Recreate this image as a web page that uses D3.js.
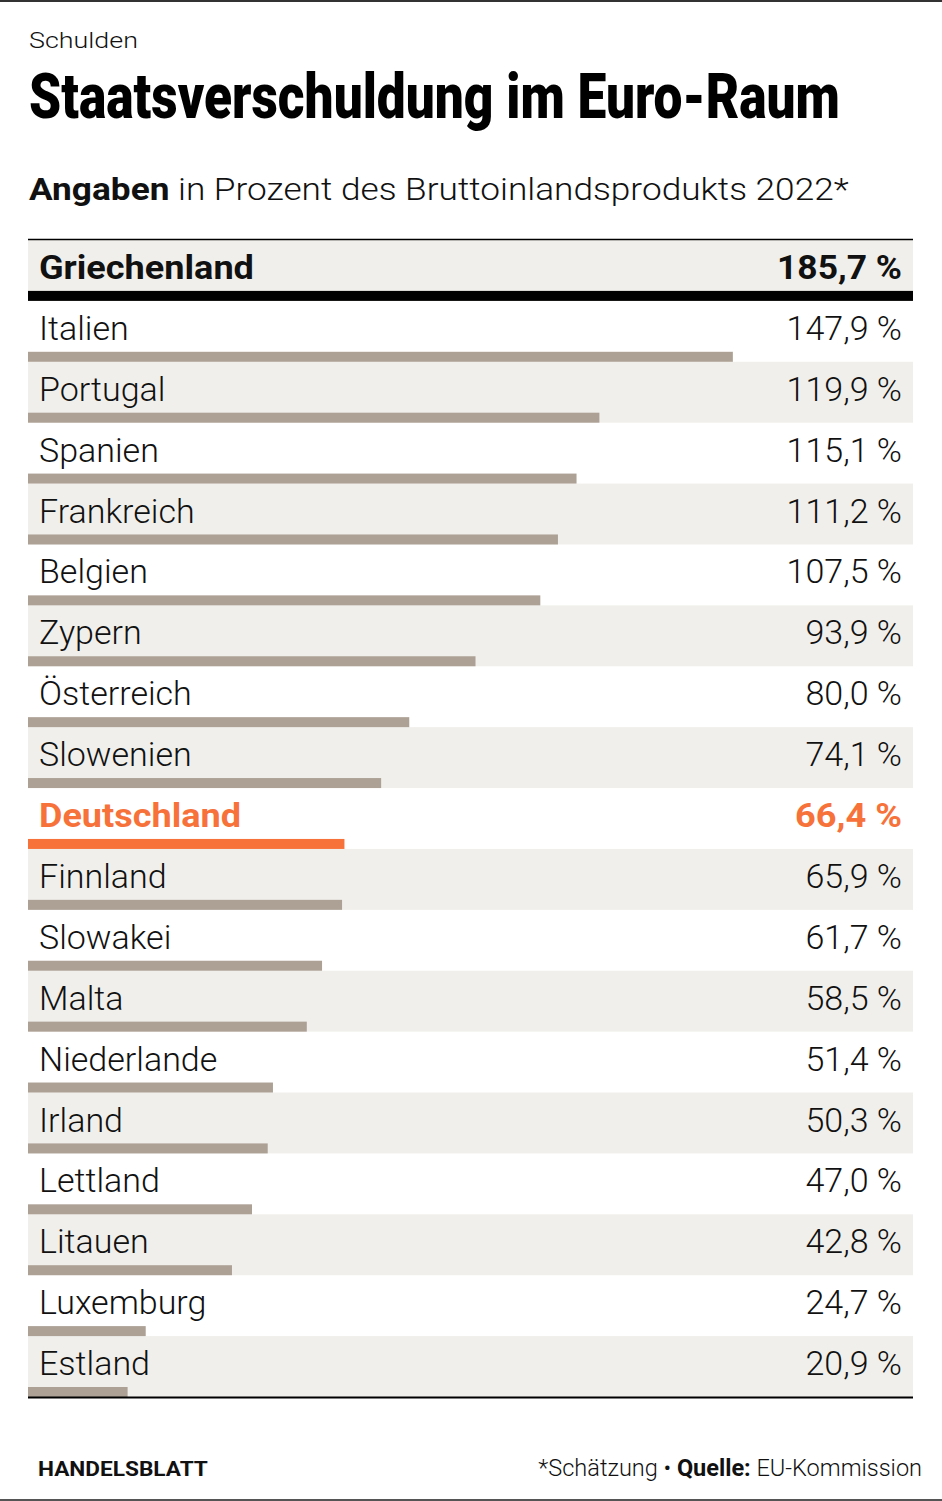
<!DOCTYPE html>
<html><head><meta charset="utf-8">
<script src="https://cdn.jsdelivr.net/npm/d3@7"></script>
<style>
html,body{margin:0;padding:0;background:#fff;}
svg{display:block;}
text{font-family:Roboto,"Noto Sans",sans-serif;}
</style></head>
<body>
<script>
const countries = ["Griechenland","Italien","Portugal","Spanien","Frankreich","Belgien","Zypern","Österreich","Slowenien","Deutschland","Finnland","Slowakei","Malta","Niederlande","Irland","Lettland","Litauen","Luxemburg","Estland"];
const values = [185.7,147.9,119.9,115.1,111.2,107.5,93.9,80.0,74.1,66.4,65.9,61.7,58.5,51.4,50.3,47.0,42.8,24.7,20.9];
const valueLabels = ["185,7 %","147,9 %","119,9 %","115,1 %","111,2 %","107,5 %","93,9 %","80,0 %","74,1 %","66,4 %","65,9 %","61,7 %","58,5 %","51,4 %","50,3 %","47,0 %","42,8 %","24,7 %","20,9 %"];
const leader = "Griechenland";
const highlight = "Deutschland";

const W = 942, H = 1501;
const svg = d3.select("body").append("svg").attr("width", W).attr("height", H);

// scale a text horizontally so it spans the given width (anchor: "start" or "end")
function fitX(sel, x0, y0, width, anchor) {
  const node = sel.node();
  const w = node.getComputedTextLength();
  const k = width / w;
  sel.attr("x", 0).attr("y", 0).attr("text-anchor", anchor || "start")
    .attr("transform", `translate(${x0},${y0}) scale(${k},1)`);
}

const x = d3.scaleLinear().domain([0, d3.max(values)]).range([28, 913]);
const y = d3.scaleBand().domain(countries).range([240, 1397]).padding(0);
const bh = 10;

const data = countries.map((c, i) => ({c, v: values[i], lab: valueLabels[i], i}));

// borders
svg.append("rect").attr("x",0).attr("y",0).attr("width",W).attr("height",2).attr("fill","#333");
svg.append("rect").attr("x",0).attr("y",H-2).attr("width",W).attr("height",2).attr("fill","#555");

// header texts
const s1 = svg.append("text").attr("font-size",23).attr("font-weight",300).attr("fill","#111").text("Schulden");
fitX(s1, 29, 48, 109);
const t1 = svg.append("text").attr("font-size",63).attr("font-weight",900).attr("fill","#000").text("Staatsverschuldung im Euro-Raum");
fitX(t1, 29, 118, 811);
const sub = svg.append("text").attr("font-size",31).attr("fill","#111");
sub.append("tspan").attr("font-weight",700).text("Angaben");
sub.append("tspan").attr("font-weight",300).text(" in Prozent des Bruttoinlandsprodukts 2022*");
fitX(sub, 29, 200, 820);

// row backgrounds
svg.append("g").selectAll("rect").data(data.filter(d => d.i % 2 === 0)).join("rect")
  .attr("x", x(0)).attr("y", d => y(d.c)).attr("width", x.range()[1] - x(0)).attr("height", y.bandwidth())
  .attr("fill", "#f0efeb");

// bars
svg.append("g").selectAll("rect").data(data).join("rect")
  .attr("x", x(0)).attr("y", d => y(d.c) + y.bandwidth() - bh)
  .attr("width", d => x(d.v) - x(0)).attr("height", bh)
  .attr("fill", d => d.c === leader ? "#000" : d.c === highlight ? "#f7723a" : "#ada195");

// top line and bottom line
svg.append("line").attr("x1",x(0)).attr("x2",x.range()[1]).attr("y1",239.5).attr("y2",239.5).attr("stroke","#000").attr("stroke-width",1.5);
svg.append("line").attr("x1",x(0)).attr("x2",x.range()[1]).attr("y1",1397.5).attr("y2",1397.5).attr("stroke","#000").attr("stroke-width",2);

// labels
const isBold = d => d.c === leader || d.c === highlight;
const colorOf = d => d.c === highlight ? "#f7723a" : "#111";
const boldLabelW = {"Griechenland": 215, "Deutschland": 202};
const boldValueW = {"Griechenland": 125, "Deutschland": 107};

svg.append("g").selectAll("text").data(data).join("text")
  .attr("x", 39).attr("y", d => y(d.c) + 39)
  .attr("font-size", 34).attr("font-weight", d => isBold(d) ? 700 : 300)
  .attr("fill", colorOf).text(d => d.c)
  .each(function(d) { if (isBold(d)) fitX(d3.select(this), 39, y(d.c) + 39, boldLabelW[d.c]); });

svg.append("g").selectAll("text").data(data).join("text")
  .attr("x", 902).attr("y", d => y(d.c) + 39).attr("text-anchor","end")
  .attr("font-size", 34).attr("font-weight", d => isBold(d) ? 700 : 300)
  .attr("fill", colorOf).text(d => d.lab)
  .each(function(d) { if (isBold(d)) fitX(d3.select(this), 902, y(d.c) + 39, boldValueW[d.c], "end"); });

// footer
const f1 = svg.append("text").attr("font-size",20).attr("font-weight",700).attr("fill","#111").text("HANDELSBLATT");
fitX(f1, 38, 1476, 170);
const ft = svg.append("text").attr("font-size",23).attr("fill","#111");
ft.append("tspan").attr("font-weight",300).text("*Schätzung • ");
ft.append("tspan").attr("font-weight",700).text("Quelle:");
ft.append("tspan").attr("font-weight",300).text(" EU-Kommission");
fitX(ft, 922, 1476, 384, "end");
</script>
</body></html>
